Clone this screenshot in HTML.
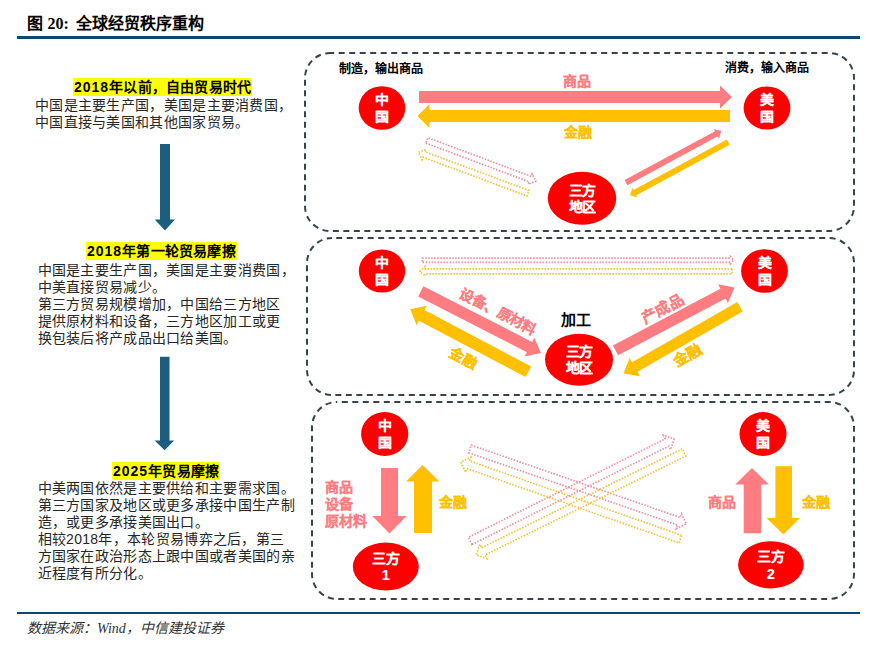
<!DOCTYPE html>
<html lang="zh-CN"><head><meta charset="utf-8"><style>
html,body{margin:0;padding:0;background:#fff;}
body{width:882px;height:648px;position:relative;overflow:hidden;font-family:"Liberation Sans",sans-serif;}
svg{position:absolute;left:0;top:0;}
svg text{font-family:"Liberation Sans",sans-serif;}
.ct{fill:#fff;stroke:#fff;stroke-width:0.2px;font-size:14px;font-weight:bold;text-anchor:middle;}
.bk{fill:#000;stroke:#000;stroke-width:0px;font-size:12px;font-weight:bold;}
.t{position:absolute;white-space:nowrap;}
.title{left:27px;top:14px;font-size:16px;font-weight:bold;color:#000;line-height:20px;}
.title .n{font-family:"Liberation Serif",serif;font-size:16px;}
.dg{letter-spacing:1px;}
.hd{position:absolute;background:#FFFF00;font-weight:bold;font-size:14px;line-height:17px;color:#000;padding:1px 1px 0 1px;letter-spacing:0.2px;}
.body{position:absolute;left:35px;font-size:14px;line-height:17px;color:#262626;white-space:nowrap;letter-spacing:0.3px;}
.foot{left:27px;top:619px;font-family:"Liberation Serif",serif;font-style:italic;font-size:14px;color:#333;line-height:20px;}
</style></head><body>
<div class="t title">图 <span class="n">20:</span><span style="display:inline-block;width:7px"></span>全球经贸秩序重构</div>
<div class="hd" style="left:73px;top:78px;"><span class="dg">2018</span>年以前，自由贸易时代</div>
<div class="body" style="top:97px;">中国是主要生产国，美国是主要消费国，<br>中国直接与美国和其他国家贸易。</div>
<div class="hd" style="left:86px;top:242px;"><span class="dg">2018</span>年第一轮贸易摩擦</div>
<div class="body" style="top:262px;left:37.5px;">中国是主要生产国，美国是主要消费国，<br>中美直接贸易减少。<br>第三方贸易规模增加，中国给三方地区<br>提供原材料和设备，三方地区加工或更<br>换包装后将产成品出口给美国。</div>
<div class="hd" style="left:112px;top:462px;"><span class="dg">2025</span>年贸易摩擦</div>
<div class="body" style="top:480px;left:37.5px;">中美两国依然是主要供给和主要需求国。<br>第三方国家及地区或更多承接中国生产制<br>造，或更多承接美国出口。<br>相较2018年，本轮贸易博弈之后，第三<br>方国家在政治形态上跟中国或者美国的亲<br>近程度有所分化。</div>
<div class="t foot">数据来源：<span>Wind</span>，中信建投证券</div>
<svg width="882" height="648" viewBox="0 0 882 648">
<rect x="17" y="36" width="843" height="3" fill="#0E4870"/><rect x="17" y="612" width="843" height="2" fill="#0E4870"/><rect x="305" y="53" width="549" height="178" rx="25" ry="25" fill="none" stroke="#36434B" stroke-width="2" stroke-dasharray="6 4.5" stroke-dashoffset="1.8"/><rect x="307" y="238" width="547" height="157" rx="25" ry="25" fill="none" stroke="#36434B" stroke-width="2" stroke-dasharray="6 4.5" stroke-dashoffset="6.3"/><rect x="312" y="402" width="542" height="197" rx="25" ry="25" fill="none" stroke="#36434B" stroke-width="2" stroke-dasharray="6 4.5" stroke-dashoffset="5.7"/><polygon points="419,91 720,91 720,85.5 732,97 720,108.5 720,103 419,103" fill="#FF7C80"/><polygon points="730,110 429.5,110 429.5,104 417.5,116 429.5,128 429.5,122 730,122" fill="#FFC000"/><polygon points="627.4,185.2 717.7,136.3 719.0,138.6 721.2,131.1 713.7,128.9 715.0,131.2 624.6,180.0" fill="#FF7C80"/><polygon points="726.9,139.5 633.6,190.1 632.3,187.8 630.1,195.2 637.6,197.5 636.3,195.2 729.6,144.7" fill="#FFC000"/><polygon points="425.8,143.1 529.2,181.8 528.3,184.2 535.8,181.2 532.1,173.9 531.2,176.4 427.9,137.7" fill="none" stroke="#F0909F" stroke-width="1.7" stroke-dasharray="1.5 1.5"/><polygon points="529.0,190.5 425.1,151.8 426.0,149.3 418.5,152.4 422.2,159.7 423.1,157.2 527.0,196.0" fill="none" stroke="#F5C335" stroke-width="1.7" stroke-dasharray="1.5 1.5"/><ellipse cx="382" cy="108" rx="23.3" ry="21.8" fill="#FF0000"/><text transform="translate(382 104.0) scale(1 0.93)" class="ct">中</text><text transform="translate(382 121.0) scale(1 0.93)" class="ct">国</text><ellipse cx="767" cy="108" rx="23.4" ry="21.6" fill="#FF0000"/><text transform="translate(767 104.0) scale(1 0.93)" class="ct">美</text><text transform="translate(767 121.0) scale(1 0.93)" class="ct">国</text><ellipse cx="582" cy="198.3" rx="34.3" ry="26.5" fill="#FF0000"/><text transform="translate(582 194.8) scale(1 0.93)" class="ct">三方</text><text transform="translate(582 210.8) scale(1 0.93)" class="ct">地区</text><text x="577" y="85.5" fill="#FF7C80" stroke="#FF7C80" stroke-width="0.1" font-size="14" font-weight="bold" text-anchor="middle">商品</text><text x="578" y="136.5" fill="#FFC000" stroke="#FFC000" stroke-width="0.1" font-size="14" font-weight="bold" text-anchor="middle">金融</text><text x="339" y="72.6" class="bk">制造，输出商品</text><text x="724.5" y="71.7" class="bk">消费，输入商品</text><polygon points="422.5,262.3 730.6,262.3 730.6,263.7 733.6,260.2 730.6,256.7 730.6,258.1 422.5,258.1" fill="none" stroke="#F0909F" stroke-width="1.7" stroke-dasharray="1.5 1.5"/><polygon points="732.0,268.9 425.0,268.9 425.0,266.5 420.0,271.4 425.0,276.2 425.0,273.9 732.0,273.9" fill="none" stroke="#F5C335" stroke-width="1.7" stroke-dasharray="1.5 1.5"/><polygon points="418.2,296.4 526.8,352.2 524.6,356.4 541.0,353.0 534.2,337.7 532.1,341.9 423.4,286.2" fill="#FF7C80"/><polygon points="531.2,366.5 424.5,310.1 426.8,305.7 410.2,309.3 416.6,325.1 418.9,320.7 525.6,377.1" fill="#FFC000"/><polygon points="618.1,355.3 725.6,298.4 727.9,302.9 734.5,287.5 718.1,284.3 720.4,288.7 612.9,345.5" fill="#FF7C80"/><polygon points="737.3,302.0 632.0,362.3 629.6,357.9 623.5,373.5 640.0,376.2 637.5,371.8 742.7,311.6" fill="#FFC000"/><ellipse cx="382" cy="271" rx="23.2" ry="21.6" fill="#FF0000"/><text transform="translate(382 267.0) scale(1 0.93)" class="ct">中</text><text transform="translate(382 284.0) scale(1 0.93)" class="ct">国</text><ellipse cx="764.5" cy="271" rx="23.4" ry="21.8" fill="#FF0000"/><text transform="translate(764.5 267.0) scale(1 0.93)" class="ct">美</text><text transform="translate(764.5 284.0) scale(1 0.93)" class="ct">国</text><ellipse cx="579" cy="359.7" rx="34" ry="26" fill="#FF0000"/><text transform="translate(579 356.2) scale(1 0.93)" class="ct">三方</text><text transform="translate(579 372.2) scale(1 0.93)" class="ct">地区</text><text x="495.5" y="316" fill="#FF7C80" stroke="#FF7C80" stroke-width="0.1" font-size="14.3" font-weight="bold" text-anchor="middle" transform="rotate(27 495.5 316)">设备、原材料</text><text x="460.5" y="362.5" fill="#FFC000" stroke="#FFC000" stroke-width="0.1" font-size="14.5" font-weight="bold" text-anchor="middle" transform="rotate(27 460.5 362.5)">金融</text><text x="665" y="313.5" fill="#FF7C80" stroke="#FF7C80" stroke-width="0.1" font-size="15" font-weight="bold" text-anchor="middle" transform="rotate(-28 665 313.5)">产成品</text><text x="690" y="359.5" fill="#FFC000" stroke="#FFC000" stroke-width="0.1" font-size="15" font-weight="bold" text-anchor="middle" transform="rotate(-29 690 359.5)">金融</text><text x="576" y="325" class="bk" text-anchor="middle" font-size="15" style="font-size:15px">加工</text><polygon points="381,468 398,468 398,516 406.7,516 389.5,533.5 372.3,516 381,516" fill="#FF7C80"/><polygon points="414,533 432,533 432,481.6 439.4,481.6 422.5,465 406,481.6 414,481.6" fill="#FFC000"/><polygon points="743.7,533.3 761.1,533.3 761.1,484.6 769,484.6 752,468 735.2,484.6 743.7,484.6" fill="#FF7C80"/><polygon points="775.4,466.3 792,466.3 792,518 800,518 783.3,534.6 766.7,518 775.4,518" fill="#FFC000"/><polygon points="468.7,452.8 677.6,525.0 676.3,528.8 686.3,523.8 681.5,513.7 680.2,517.5 471.3,445.2" fill="none" stroke="#F0909F" stroke-width="1.7" stroke-dasharray="1.5 1.5"/><polygon points="681.7,535.3 469.6,461.0 470.9,457.2 460.9,462.2 465.6,472.3 466.9,468.6 679.1,542.9" fill="none" stroke="#F5C335" stroke-width="1.7" stroke-dasharray="1.5 1.5"/><polygon points="472.0,544.5 668.8,446.1 670.6,449.6 674.0,439.0 663.4,435.3 665.2,438.9 468.4,537.3" fill="none" stroke="#F0909F" stroke-width="1.7" stroke-dasharray="1.5 1.5"/><polygon points="682.2,448.9 481.5,547.9 479.8,544.3 476.3,554.9 486.8,558.6 485.1,555.0 685.8,456.1" fill="none" stroke="#F5C335" stroke-width="1.7" stroke-dasharray="1.5 1.5"/><ellipse cx="384.7" cy="434" rx="23.6" ry="22" fill="#FF0000"/><text transform="translate(384.7 430.0) scale(1 0.93)" class="ct">中</text><text transform="translate(384.7 447.0) scale(1 0.93)" class="ct">国</text><ellipse cx="763" cy="434" rx="23.5" ry="22" fill="#FF0000"/><text transform="translate(763 430.0) scale(1 0.93)" class="ct">美</text><text transform="translate(763 447.0) scale(1 0.93)" class="ct">国</text><ellipse cx="385.8" cy="566.6" rx="33" ry="24" fill="#FF0000"/><text transform="translate(385.8 563.1) scale(1 0.93)" class="ct">三方</text><text x="385.8" y="580.3" class="ct" style="font-size:14.5px">1</text><ellipse cx="770.9" cy="564.8" rx="32.8" ry="23.6" fill="#FF0000"/><text transform="translate(770.9 561.3) scale(1 0.93)" class="ct">三方</text><text x="770.9" y="578.5" class="ct" style="font-size:14.5px">2</text><text x="325" y="492" fill="#FF7C80" stroke="#FF7C80" stroke-width="0.1" font-size="14" font-weight="bold">商品</text><text x="325" y="509" fill="#FF7C80" stroke="#FF7C80" stroke-width="0.1" font-size="14" font-weight="bold">设备</text><text x="325" y="526" fill="#FF7C80" stroke="#FF7C80" stroke-width="0.1" font-size="14" font-weight="bold">原材料</text><text x="439" y="507" fill="#FFC000" stroke="#FFC000" stroke-width="0.1" font-size="14" font-weight="bold">金融</text><text x="708" y="507" fill="#FF7C80" stroke="#FF7C80" stroke-width="0.1" font-size="14" font-weight="bold">商品</text><text x="801.5" y="507" fill="#FFC000" stroke="#FFC000" stroke-width="0.1" font-size="14" font-weight="bold">金融</text><polygon points="160,144 170,144 170,219.6 175,219.6 165,230.4 154.7,219.6 160,219.6" fill="#1B5E80"/><polygon points="160,356.8 169.5,356.8 169.5,440.4 174.2,440.4 164.5,450.2 154.7,440.4 160,440.4" fill="#1B5E80"/>
</svg>
</body></html>
